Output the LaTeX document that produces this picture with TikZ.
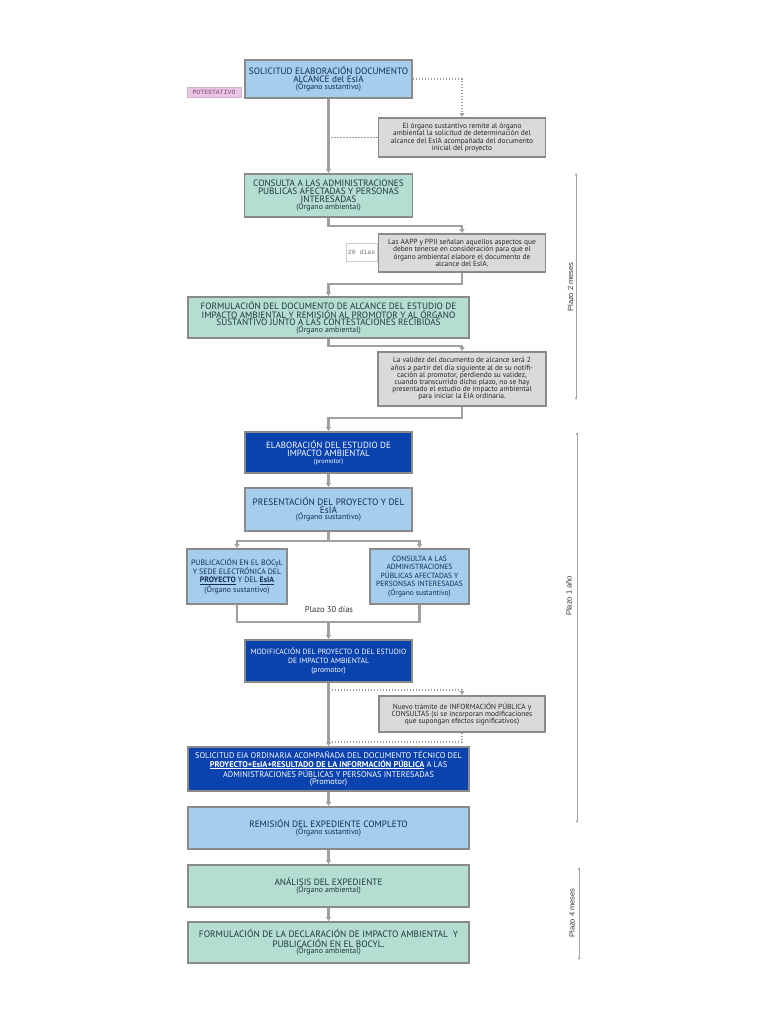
\documentclass[tikz,border=0pt]{standalone}
\usepackage{fontspec}
\setmainfont{PT Sans}
\newfontfamily\plazofont{Liberation Sans}
\newfontfamily\courierfont{Liberation Mono}
\usetikzlibrary{arrows.meta}

\definecolor{azulclaro}{RGB}{164,206,235}
\definecolor{verdeclaro}{RGB}{182,221,209}
\definecolor{azuloscuro}{RGB}{10,66,174}
\definecolor{grisclaro}{RGB}{218,218,218}
\definecolor{borde}{RGB}{138,138,138}
\definecolor{gristrazo}{RGB}{160,160,160}
\definecolor{textoazul}{RGB}{20,45,80}
\definecolor{textoverde}{RGB}{25,60,60}
\definecolor{rosa}{RGB}{233,198,228}
\definecolor{rosaoscuro}{RGB}{125,70,115}

\tikzset{
  caja/.style={draw=borde, line width=1.8pt, align=center, inner sep=1pt},
  azul/.style={caja, fill=azulclaro, text=textoazul},
  verde/.style={caja, fill=verdeclaro, text=textoverde},
  oscuro/.style={caja, fill=azuloscuro, text=white},
  gris/.style={caja, fill=grisclaro, text=black!85, font=\fontsize{7.4}{7.2}\selectfont},
  flecha/.style={draw=gristrazo, line width=2.2pt, -{Latex[length=4pt,width=6pt]}},
  linea/.style={draw=gristrazo, line width=2.2pt},
  punteado/.style={draw=gristrazo, line width=1.5pt, dash pattern=on 1.5pt off 1.5pt},
  punteadoflecha/.style={punteado, -{Latex[length=4pt,width=5.5pt]}},
  plazo/.style={draw=gristrazo, line width=0.8pt, {Latex[length=2.5pt,width=2.5pt]}-{Latex[length=2.5pt,width=2.5pt]}},
}
\newcommand{\organo}[1]{{\fontsize{7.8}{7.8}\selectfont(#1)}}

\begin{document}
\begin{tikzpicture}[x=1pt,y=-1pt]
    \useasboundingbox (0,0) rectangle (768,1024);
    \fill[white] (0,0) rectangle (768,1024);

    % fase de alcance
    \node[azul, minimum width=167pt, minimum height=38pt, font=\fontsize{9.2}{8.3}\selectfont] (solicitud) at (328.5,79) {SOLICITUD ELABORACIÓN DOCUMENTO\\ALCANCE del EsIA\\[-1pt]\organo{Órgano sustantivo}};
    \node[draw=rosaoscuro!40, fill=rosa, line width=0.6pt, minimum width=54pt, minimum height=10pt, inner sep=0pt, text=rosaoscuro, font=\courierfont\fontsize{6.5}{6.5}\selectfont] (potestativo) at (214,92) {POTESTATIVO};
    \node[gris, minimum width=167pt, minimum height=39pt] (remite) at (462,137.5) {El órgano sustantivo remite al órgano\\ambiental la solicitud de determinación del\\alcance del EsIA acompañada del documento\\inicial del proyecto};

    \node[verde, minimum width=168pt, minimum height=43pt, font=\fontsize{9.2}{8}\selectfont] (consulta) at (328.5,195.5) {CONSULTA A LAS ADMINISTRACIONES\\PUBLICAS AFECTADAS Y PERSONAS\\INTERESADAS\\[-1.5pt]\organo{Órgano ambiental}};
    \node[gris, minimum width=167pt, minimum height=38pt] (aapp) at (462,253) {Las AAPP y PPII señalan aquellos aspectos que\\deben tenerse en consideración para que el\\órgano ambiental elabore el documento de\\alcance del EsIA.};
    \node[draw=black!20, line width=0.6pt, minimum width=31pt, minimum height=18pt, inner sep=0pt, text=black!55, font=\courierfont\fontsize{6.5}{6.5}\selectfont] (dias) at (361.5,252) {20 días};

    \node[verde, minimum width=281pt, minimum height=41pt, font=\fontsize{9.2}{7.8}\selectfont] (formula) at (328.5,317.5) {FORMULACIÓN DEL DOCUMENTO DE ALCANCE DEL ESTUDIO DE\\IMPACTO AMBIENTAL Y REMISIÓN AL PROMOTOR Y AL ÓRGANO\\SUSTANTIVO JUNTO A LAS CONTESTACIONES RECIBIDAS\\[-1.5pt]\organo{Órgano ambiental}};
    \node[gris, minimum width=168pt, minimum height=54pt] (validez) at (462,379) {La validez del documento de alcance será 2\\años a partir del día siguiente al de su notifi-\\cación al promotor, perdiendo su validez,\\cuando transcurrido dicho plazo, no se hay\\presentado el estudio de impacto ambiental\\para iniciar la EIA ordinaria.};

    % fase de informacion publica
    \node[oscuro, minimum width=167pt, minimum height=41pt, font=\fontsize{9}{7.8}\selectfont] (elabora) at (328.5,452.5) {ELABORACIÓN DEL ESTUDIO DE\\IMPACTO AMBIENTAL\\[-1pt]{\fontsize{6.5}{6.5}\selectfont(promotor)}};
    \node[azul, minimum width=167pt, minimum height=43pt, font=\fontsize{9.3}{8}\selectfont] (presenta) at (328.5,509.5) {PRESENTACIÓN DEL PROYECTO Y DEL\\EsIA\\[-1.5pt]\organo{Órgano sustantivo}};
    \node[azul, minimum width=100pt, minimum height=55pt, font=\fontsize{7.8}{8.4}\selectfont] (publica) at (237,576.5) {PUBLICACIÓN EN EL BOCyL\\Y SEDE ELECTRÓNICA DEL\\\textbf{\underline{PROYECTO}} Y DEL \textbf{\underline{EsIA}}\\(Órgano sustantivo)};
    \node[azul, minimum width=99pt, minimum height=55pt, font=\fontsize{7.5}{8.4}\selectfont] (consulta2) at (419.5,576.5) {CONSULTA A LAS\\ADMINISTRACIONES\\PÚBLICAS AFECTADAS Y\\PERSONSAS INTERESADAS\\(Órgano sustantivo)};
    \node[text=black!80, font=\fontsize{8.5}{8.5}\selectfont] (plazo30) at (329,609) {Plazo 30 días};

    \node[oscuro, minimum width=167pt, minimum height=42pt, font=\fontsize{7.6}{9}\selectfont] (modifica) at (328.5,661) {MODIFICACIÓN DEL PROYECTO O DEL ESTUDIO\\DE IMPACTO AMBIENTAL\\(promotor)};
    \node[gris, minimum width=166pt, minimum height=36pt] (nuevo) at (462,714) {Nuevo trámite de INFORMACIÓN PÚBLICA y\\CONSULTAS (si se incorporan modificaciones\\que supongan efectos significativos)};

    % fase final
    \node[oscuro, minimum width=281pt, minimum height=44pt, font=\fontsize{8.3}{7.3}\selectfont] (solicitud2) at (328.5,769) {SOLICITUD EIA ORDINARIA ACOMPAÑADA DEL DOCUMENTO TÉCNICO DEL\\\underline{\textbf{PROYECTO+EsIA+RESULTADO DE LA INFORMACIÓN PÚBLICA}} A LAS\\ADMINISTRACIONES PÚBLICAS Y PERSONAS INTERESADAS\\(Promotor)};
    \node[azul, minimum width=281pt, minimum height=42pt, font=\fontsize{9.2}{8}\selectfont] (remision) at (328.5,828) {REMISIÓN DEL EXPEDIENTE COMPLETO\\[-1.5pt]\organo{Órgano sustantivo}};
    \node[verde, minimum width=281pt, minimum height=42pt, font=\fontsize{9.2}{8}\selectfont] (analisis) at (328.5,886) {ANÁLISIS DEL EXPEDIENTE\\[-1.5pt]\organo{Órgano ambiental}};
    \node[verde, minimum width=281pt, minimum height=41pt, font=\fontsize{9.3}{7.8}\selectfont] (formulacion) at (328.5,942.5) {FORMULACIÓN DE LA DECLARACIÓN DE IMPACTO AMBIENTAL~ Y\\PUBLICACIÓN EN EL BOCYL.\\[-1.5pt]\organo{Órgano ambiental}};

    % conectores
    \draw[flecha] (solicitud.south) -- (consulta.north);
    \draw[punteadoflecha] (solicitud.east) -| (remite.north);
    \draw[punteado] (remite.west) -- (remite.west -| solicitud.south);

    \draw[flecha] (consulta.south) -- ++(0,8) -| (aapp.north);
    \draw[flecha] (aapp.south) -- ++(0,11) -| (formula.north);
    \draw[flecha] (formula.south) -- ++(0,7) -| (validez.north);
    \draw[flecha] (validez.south) -- ++(0,11) -| (elabora.north);
    \draw[flecha] (elabora.south) -- (presenta.north);

    \path (presenta.south) ++(0,9) coordinate (reparto);
    \coordinate (union) at (328.5,622);
    \draw[linea] (presenta.south) -- (reparto);
    \draw[flecha] (reparto) -| (publica.north);
    \draw[flecha] (reparto) -| (consulta2.north);
    \draw[linea] (publica.south) |- (union) -| (consulta2.south);
    \draw[flecha] (union) -- (modifica.north);

    \draw[flecha] (modifica.south) -- (solicitud2.north);
    \coordinate (desvio) at (328.5,690);
    \coordinate (retorno) at (328.5,742);
    \draw[punteadoflecha] (desvio) -| (nuevo.north);
    \draw[punteado] (nuevo.south) |- (retorno);

    \draw[flecha] (solicitud2.south) -- (remision.north);
    \draw[flecha] (remision.south) -- (analisis.north);
    \draw[flecha] (analisis.south) -- (formulacion.north);

    % plazos
    \coordinate (dosA) at (576,173);
    \coordinate (dosB) at (576,400);
    \coordinate (anoA) at (577,432);
    \coordinate (anoB) at (577,823);
    \coordinate (cuatroA) at (579,867);
    \coordinate (cuatroB) at (579,960);
    \draw[plazo] (dosA) -- (dosB);
    \draw[plazo] (anoA) -- (anoB);
    \draw[plazo] (cuatroA) -- (cuatroB);
    \node[rotate=90, text=black!80, font=\plazofont\fontsize{7.5}{7.5}\selectfont] (dosmeses) at (570.5,287) {Plazo 2 meses};
    \node[rotate=90, text=black!80, font=\plazofont\fontsize{7.5}{7.5}\selectfont] (unano) at (569,596) {Plazo 1 año};
    \node[rotate=90, text=black!80, font=\plazofont\fontsize{7.5}{7.5}\selectfont] (cuatromeses) at (572,913) {Plazo 4 meses};
\end{tikzpicture}
\end{document}
